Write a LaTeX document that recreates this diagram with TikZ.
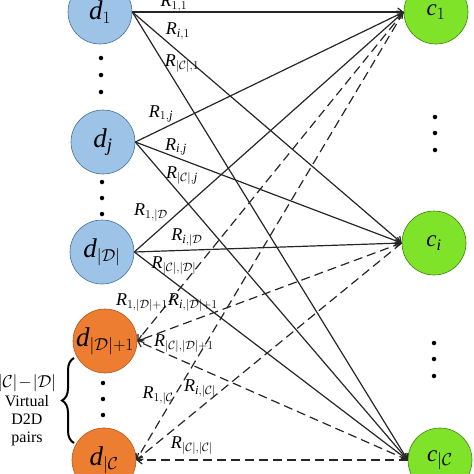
\documentclass[tikz,border=0pt]{standalone}
\usepackage{amsmath}
\usepackage{fontspec}
\setmainfont{Liberation Serif}
\usetikzlibrary{arrows.meta,decorations.pathreplacing}
\definecolor{dblue}{HTML}{9DC3E6}
\definecolor{dblueb}{HTML}{41719C}
\definecolor{dorange}{HTML}{ED7D31}
\definecolor{doranb}{HTML}{AE5A21}
\definecolor{cgreen}{HTML}{7FE32A}
\definecolor{cgreenb}{HTML}{3F7F10}
\begin{document}
\begin{tikzpicture}[x=1pt,y=-1pt,
  dnode/.style={circle,minimum size=64pt,inner sep=0pt,fill=dblue,draw=dblueb,line width=0.6pt,font=\fontsize{27}{29}\selectfont},
  vnode/.style={circle,minimum size=64pt,inner sep=0pt,fill=dorange,draw=doranb,line width=0.6pt,font=\fontsize{27}{29}\selectfont},
  cnode/.style={circle,minimum size=64pt,inner sep=0pt,fill=cgreen,draw=cgreenb,line width=0.6pt,font=\fontsize{23}{25}\selectfont},
  sol/.style={line width=1.2pt,draw=black!85,-{Straight Barb[length=5pt,width=8pt]}},
  dsh/.style={line width=1.2pt,draw=black!85,dash pattern=on 9pt off 5pt,-{Straight Barb[length=5pt,width=8pt]}},
  lab/.style={inner sep=0pt,font=\fontsize{18}{20}\selectfont},
  dot/.style={circle,fill=black,inner sep=0pt,minimum size=4.5pt},
  side/.style={inner sep=0pt,font=\fontsize{16}{18}\selectfont,align=center}]
\useasboundingbox (0,0) rectangle (474,474);
% left nodes
\node[dnode] (d1) at (100,12) {$\textit{d}_{1}$};
\node[dnode] (dj) at (103,142) {$\textit{d}_{\textit{j}}$};
\node[dnode] (dD) at (102,252) {$\textit{d}_{|\mathcal{D}|}$};
\node[vnode] (dv1) at (105,341) {$\textit{d}_{|\mathcal{D}|+1}$};
\node[vnode] (dvC) at (104,460) {$\textit{d}_{|\mathcal{C}}$};
% right nodes
\node[cnode] (c1) at (436,12) {$\textit{c}_{1}$};
\node[cnode] (ci) at (434,243) {$\textit{c}_{\textit{i}}$};
\node[cnode] (cC) at (440,460) {$\textit{c}_{|\mathcal{C}}$};
% dots
\foreach \y [count=\k] in {58,75,92} \node[dot] (ldA\k) at (101,\y) {};
\foreach \y [count=\k] in {182,198,214} \node[dot] (ldB\k) at (102,\y) {};
\foreach \y [count=\k] in {383,399,415} \node[dot] (ldC\k) at (103,\y) {};
\foreach \y [count=\k] in {117,133,150} \node[dot] (rdA\k) at (435,\y) {};
\foreach \y [count=\k] in {343,359,376} \node[dot] (rdB\k) at (434,\y) {};
% solid links
\foreach \s in {d1,dj,dD}
  \foreach \t in {c1,ci,cC}
    \draw[sol] (\s.east) -- (\t.west);
% dashed links
\foreach \s in {c1,ci,cC}
  \foreach \t in {dv1,dvC}
    \draw[dsh] (\s.west) -- (\t.east);
% labels
\node[lab] (l11) at (174,3) {$\textit{R}_{1,1}$};
\node[lab] (li1) at (178,31) {$\textit{R}_{\textit{i},1}$};
\node[lab] (lC1) at (182,64) {$\textit{R}_{|\mathcal{C}|,1}$};
\node[lab] (l1j) at (161,114) {$\textit{R}_{1,\textit{j}}$};
\node[lab] (lij) at (176,147) {$\textit{R}_{\textit{i},\textit{j}}$};
\node[lab] (lCj) at (182,176) {$\textit{R}_{|\mathcal{C}|,\textit{j}}$};
\node[lab] (l1D) at (151,213) {$\textit{R}_{1,|\mathcal{D}}$};
\node[lab] (liD) at (187,238) {$\textit{R}_{\textit{i},|\mathcal{D}}$};
\node[lab] (lCD) at (174,266) {$\textit{R}_{|\mathcal{C}|,|\mathcal{D}|}$};
\node[lab] (l1v) at (142,303) {$\textit{R}_{1,|\mathcal{D}|+1}$};
\node[lab] (liv) at (193,303) {$\textit{R}_{\textit{i},|\mathcal{D}|+1}$};
\node[lab] (lCv) at (184,344) {$\textit{R}_{|\mathcal{C}|,|\mathcal{D}|+1}$};
\node[lab] (l1C) at (158,396) {$\textit{R}_{1,|\mathcal{C}}$};
\node[lab] (liC) at (200,389) {$\textit{R}_{\textit{i},|\mathcal{C}|}$};
\node[lab] (lCC) at (192,446) {$\textit{R}_{|\mathcal{C}|,|\mathcal{C}|}$};
% brace and side text
\coordinate (bb) at (74,443);
\coordinate (bt) at (74,358);
\draw[line width=2pt,decorate,decoration={brace,amplitude=12pt}] (bb) -- (bt);
\node[side] (vt) at (27,410) {$|\mathcal{C}|\!-\!|\mathcal{D}|$\\[1pt]Virtual\\D2D\\pairs};
\end{tikzpicture}
\end{document}
